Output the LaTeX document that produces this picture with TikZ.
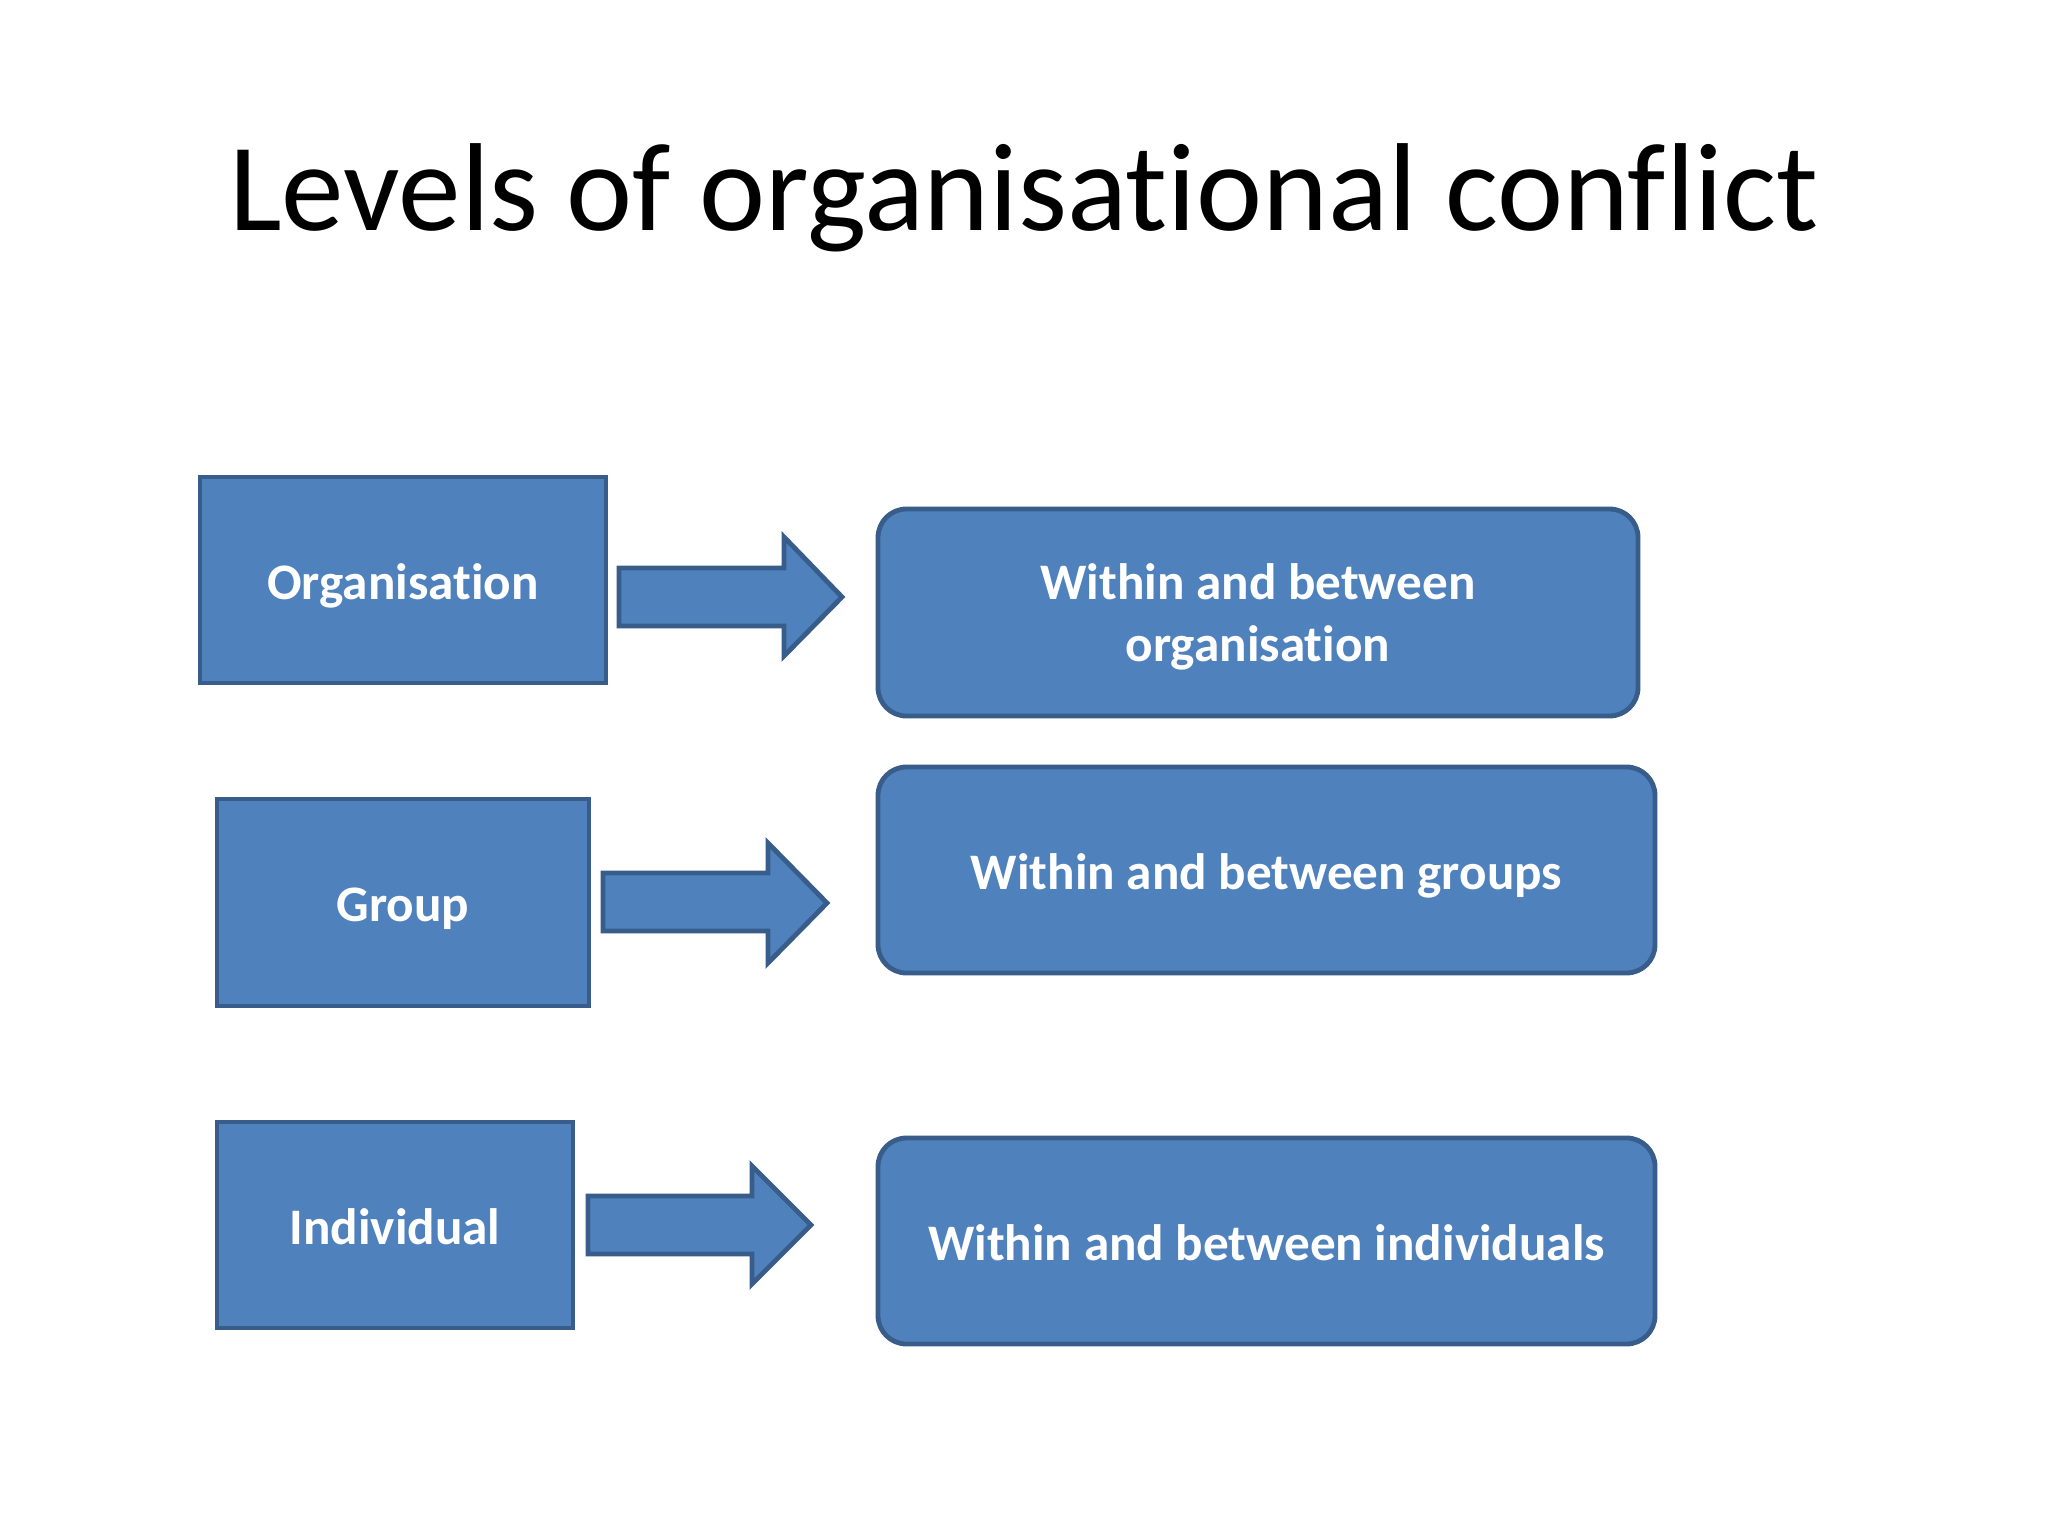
\documentclass[tikz,border=0pt]{standalone}
\usepackage{fontspec}
\setmainfont{Carlito}[Ligatures=NoCommon]
\def\u{0.3515625pt}
\definecolor{boxfill}{HTML}{4F81BD}
\definecolor{boxline}{HTML}{385D8A}
\tikzset{
  basebox/.style={draw=boxline, line width=1.7pt, fill=boxfill, text=white,
    font=\fontsize{18}{21.6}\selectfont\bfseries, align=center, inner sep=0pt},
  levelbox/.style={basebox, text height=13.5pt, text depth=0pt},
  scopebox/.style={basebox, rounded corners=10pt},
  onelinebox/.style={scopebox, text height=13.5pt, text depth=0pt},
  boxtext/.style={text=white, font=\fontsize{18}{21.6}\selectfont\bfseries, align=center, inner sep=0pt},
  blockarrow/.style={draw=boxline, line width=1.7pt, fill=boxfill, line join=miter},
}
\begin{document}
\begin{tikzpicture}[x=\u, y=-\u]
\useasboundingbox (0,0) rectangle (2048,1536);
\fill[white] (0,0) rectangle (2048,1536);
\node[anchor=base, font=\fontsize{44}{52}\selectfont] (title) at (1024,231) {Levels of organisational conflict};
% left boxes
\node[levelbox, minimum width=406*\u, minimum height=206*\u] (org) at (403,580) {Organisation};
\node[levelbox, minimum width=372*\u, minimum height=207*\u] (grp) at (403,902.5) {Group};
\node[levelbox, minimum width=356*\u, minimum height=206*\u] (ind) at (395,1225) {Individual};
% right boxes
\node[scopebox, minimum width=760*\u, minimum height=207*\u] (rorg) at (1258,612.5) {};
\node[boxtext] (rorgtext) at ([yshift=-1.6pt]rorg.center) {Within and between\\organisation};
\node[onelinebox, minimum width=777*\u, minimum height=206*\u] (rgrp) at (1266.5,870) {Within and between groups};
\node[onelinebox, minimum width=777*\u, minimum height=206*\u] (rind) at (1266.5,1241) {Within and between individuals};
% block arrows
\draw[blockarrow] (619,568) -- (784,568) -- (784,537) -- (842,597) -- (784,656) -- (784,626) -- (619,626) -- cycle;
\draw[blockarrow] (603,873) -- (768,873) -- (768,843) -- (827,903) -- (768,963) -- (768,931) -- (603,931) -- cycle;
\draw[blockarrow] (588,1196) -- (752,1196) -- (752,1166) -- (811,1225) -- (752,1284) -- (752,1254) -- (588,1254) -- cycle;
\end{tikzpicture}
\end{document}
